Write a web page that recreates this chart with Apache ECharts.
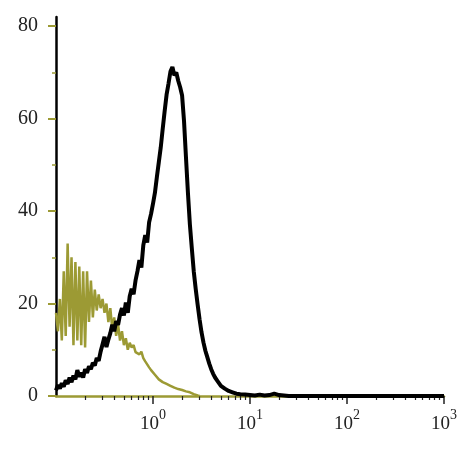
<!DOCTYPE html>
<html>
<head>
<meta charset="utf-8">
<script src="https://cdn.jsdelivr.net/npm/echarts@6/dist/echarts.min.js"></script>
<style>
html,body{margin:0;padding:0;background:#fff;}
#chart{width:474px;height:449px;}
</style>
</head>
<body>
<div id="chart"></div>
<script>
// x positions are log10 of fluorescence intensity
const blackExp = [-1.00,-0.98,-0.96,-0.94,-0.92,-0.90,-0.88,-0.86,-0.84,-0.82,
-0.80,-0.78,-0.76,-0.74,-0.72,-0.70,-0.68,-0.66,-0.64,-0.62,
-0.60,-0.58,-0.56,-0.54,-0.52,-0.50,-0.48,-0.46,-0.44,-0.42,
-0.40,-0.38,-0.36,-0.34,-0.32,-0.30,-0.28,-0.26,-0.24,-0.22,
-0.20,-0.18,-0.16,-0.14,-0.12,-0.10,-0.08,-0.06,-0.04,-0.02,
0.00,0.02,0.04,0.06,0.08,0.10,0.12,0.14,0.16,0.18,
0.20,0.22,0.24,0.26,0.28,0.30,0.32,0.34,0.36,0.38,
0.40,0.42,0.44,0.46,0.48,0.50,0.52,0.54,0.56,0.58,
0.60,0.62,0.64,0.66,0.68,0.70,
0.74,0.78,0.82,0.86,0.90,0.95,1.00,1.05,1.10,1.15,1.20,1.25,1.30,1.40,1.60,2.00,2.50,3.00];
const blackCount = [1.2,2.4,1.6,2.8,2.0,3.4,2.6,4.0,3.0,4.4,
3.6,5.6,4.2,5.0,4.0,5.8,5.0,6.4,5.8,7.2,
6.6,8.2,7.6,9.6,11.2,12.8,10.6,12.2,13.6,15.4,
14.0,16.2,15.4,17.6,19.0,17.4,20.2,18.0,21.6,23.2,
22.0,25.0,27.0,29.4,27.8,32.6,34.8,33.2,37.6,39.4,
41.6,44.0,47.4,50.6,53.8,57.8,61.6,65.2,67.6,70.2,
71.2,69.4,70.0,68.2,66.8,65.0,59.4,51.6,44.0,37.2,
32.0,27.0,23.2,19.8,16.6,13.8,11.6,9.8,8.4,7.0,
5.8,4.8,4.0,3.4,2.8,2.2,
1.6,1.1,0.8,0.5,0.4,0.3,0.2,0.1,0.3,0.1,0.2,0.5,0.2,0,0,0,0,0];

const oliveExp = [-1.00,-0.98,-0.96,-0.94,-0.92,-0.90,-0.88,-0.86,-0.84,-0.82,
-0.80,-0.78,-0.76,-0.74,-0.72,-0.70,-0.68,-0.66,-0.64,-0.62,
-0.60,-0.58,-0.56,-0.54,-0.52,-0.50,-0.48,-0.46,-0.44,-0.42,
-0.40,-0.38,-0.36,-0.34,-0.32,-0.30,-0.28,-0.26,-0.24,-0.22,
-0.20,-0.18,-0.16,-0.14,-0.12,-0.10,-0.08,-0.06,-0.04,-0.02,
0.00,0.02,0.04,0.06,0.08,0.10,0.12,0.14,0.16,0.18,
0.20,0.22,0.24,0.26,0.28,0.30,0.32,0.34,0.36,0.38,
0.40,0.42,0.44,0.46,0.48];
const oliveCount = [18,14,21,12,27,13,33,15,30,11,
29,12,28,11,27,10.5,27,16,25,17,
23,18.5,22,19,21,18,20,16,19,14.5,
17,13,15.5,12,14,11,12.5,10,11.5,10.5,
11,9.5,9.8,9,9.6,8.2,7.5,7.8,6.2,5.6,
5.8,4.6,4.2,3.6,3.8,3.0,3.3,2.6,2.9,2.2,
2.5,1.8,2.2,1.5,1.9,1.3,1.6,1.0,1.4,0.8,
1.1,0.4,0.6,0.1,0];

const xMajorTicks = [0, 1, 2, 3];
const xMinorMultipliers = [2, 3, 4, 5, 6, 7, 8, 9];
const xDecades = [-1, 0, 1, 2];
const yTicks = [0, 20, 40, 60, 80];
const yMinorTicks = [10, 30, 50, 70];

const xMinorTicks = [];
xDecades.forEach(d => xMinorMultipliers.forEach(k => xMinorTicks.push(d + Math.log10(k))));

const zip = (xs, ys) => xs.map((x, i) => [x, ys[i]]);

const fontFam = '"Liberation Serif", "DejaVu Serif", serif';
const olive = '#9c9a34';

const chart = echarts.init(document.getElementById('chart'));
chart.setOption({
  animation: false,
  backgroundColor: '#fff',
  grid: {left: 56, right: 30, top: 17, bottom: 53, containLabel: false},
  xAxis: [{
    type: 'value', min: -1, max: 3, interval: 1,
    axisLine: {show: true, onZero: false, lineStyle: {color: olive, width: 2.5}},
    axisTick: {show: true, customValues: xMajorTicks, length: 8, lineStyle: {color: '#222', width: 1.5}},
    splitLine: {show: false},
    axisLabel: {
      customValues: xMajorTicks, margin: 12, color: '#222',
      fontFamily: fontFam, fontSize: 19,
      formatter: v => '{m|10}{s|' + v + '}',
      rich: {
        m: {fontSize: 19, fontFamily: fontFam, color: '#222', verticalAlign: 'bottom'},
        s: {fontSize: 14, fontFamily: fontFam, color: '#222', verticalAlign: 'top', padding: [0, 0, 12, 0]}
      }
    }
  }, {
    type: 'value', min: -1, max: 3, position: 'bottom',
    axisLine: {show: false, onZero: false},
    axisTick: {show: true, customValues: xMinorTicks, length: 4, lineStyle: {color: '#222', width: 1.2}},
    axisLabel: {show: false},
    splitLine: {show: false}
  }],
  yAxis: [{
    type: 'value', min: 0, max: 82, position: 'left',
    axisLine: {show: true, onZero: false, lineStyle: {color: '#000', width: 2.5}},
    axisTick: {show: true, customValues: yTicks, length: 8, lineStyle: {color: olive, width: 2}},
    splitLine: {show: false},
    axisLabel: {customValues: yTicks, margin: 18, color: '#222', fontFamily: fontFam, fontSize: 20}
  }, {
    type: 'value', min: 0, max: 82, position: 'left',
    axisLine: {show: false, onZero: false},
    axisTick: {show: true, customValues: yMinorTicks, length: 4, lineStyle: {color: olive, width: 1.5}},
    axisLabel: {show: false},
    splitLine: {show: false}
  }],
  series: [{
    type: 'line', xAxisIndex: 0, yAxisIndex: 0, data: zip(oliveExp, oliveCount),
    showSymbol: false, symbol: 'none',
    lineStyle: {color: olive, width: 2.5}, z: 2
  }, {
    type: 'line', xAxisIndex: 0, yAxisIndex: 0, data: zip(blackExp, blackCount),
    showSymbol: false, symbol: 'none',
    lineStyle: {color: '#000', width: 4}, z: 3
  }]
});
</script>
</body>
</html>
